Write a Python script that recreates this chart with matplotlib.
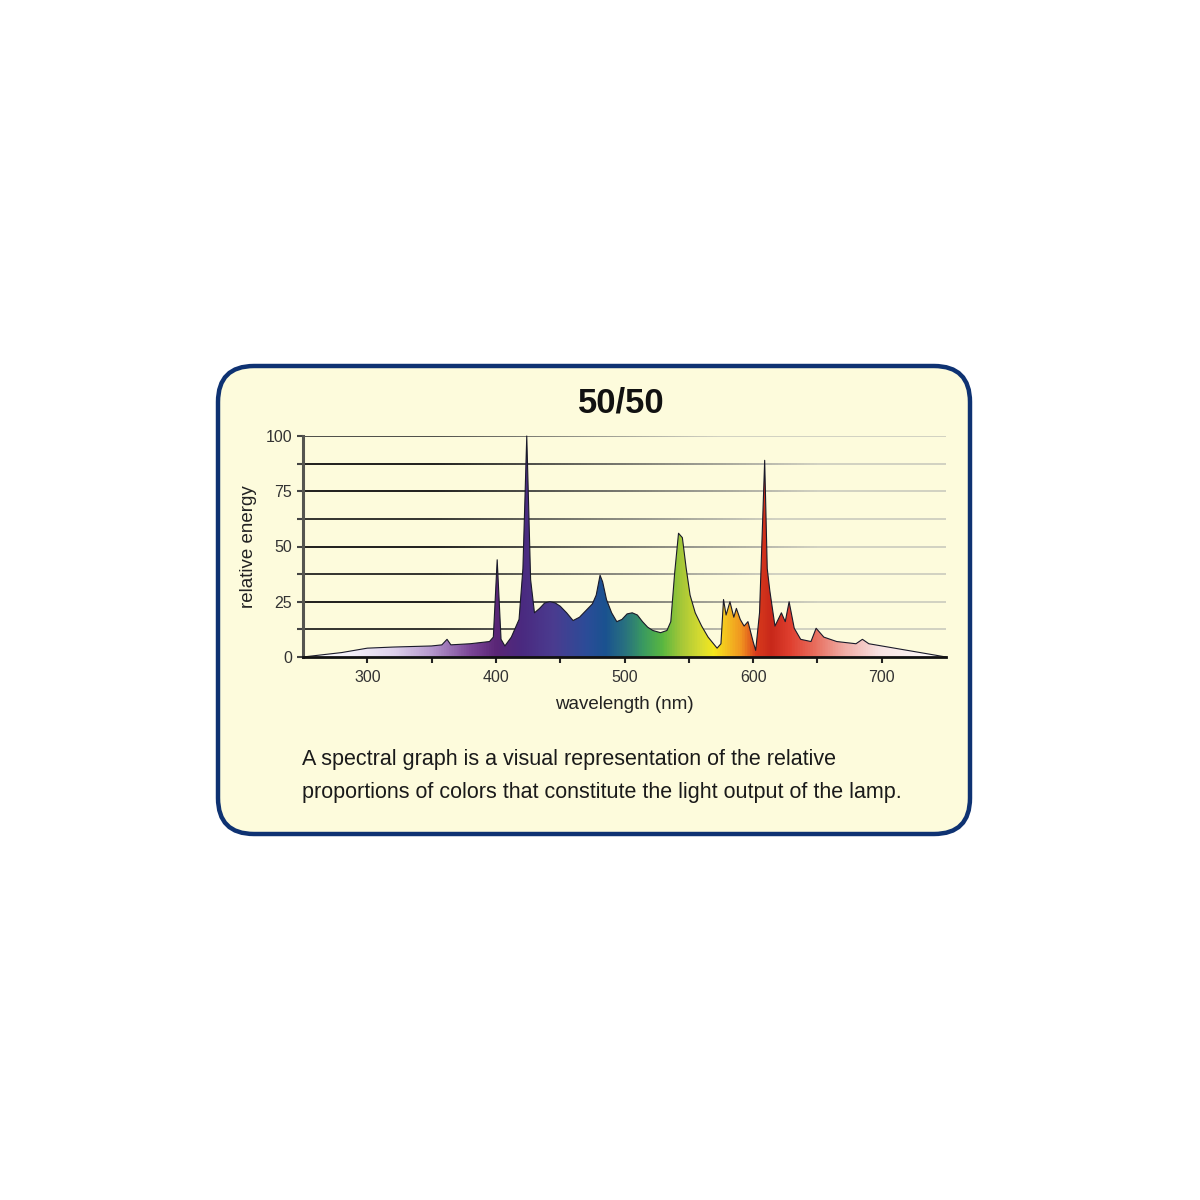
import numpy as np
import matplotlib
matplotlib.use("Agg")
import matplotlib.pyplot as plt
from matplotlib.patches import FancyBboxPatch, Polygon
from matplotlib.collections import LineCollection
from matplotlib.colors import LinearSegmentedColormap, to_rgb

# ---- data ----
wavelength = [250, 280, 300, 320, 350, 358, 362, 365, 380, 395, 398, 401, 404, 407,
              412, 418, 421, 424, 427, 430, 434, 438, 442, 446, 450, 455, 460, 465,
              470, 475, 478, 481, 483, 486, 490, 494, 498, 502, 506, 510, 514, 518,
              522, 528, 533, 536, 539, 542, 545, 548, 551, 555, 560, 565, 572, 575,
              577, 579, 582, 585, 587, 590, 593, 596, 600, 602, 605,
              609, 611, 613, 617, 622, 625, 628, 632, 637, 645, 649, 655, 665, 680,
              685, 690, 700, 720, 740, 750]
energy = [0, 2, 4, 4.5, 5, 5.5, 8, 5.5, 6, 7, 9, 44, 8, 5,
          9, 17, 40, 100, 35, 20, 22, 24.5, 25, 24.5, 23, 20, 16.5, 18,
          21, 24, 28, 37, 34, 26, 20, 16, 17, 19.5, 20, 19, 16, 13.5,
          12, 11, 12, 16, 38, 56, 54, 40, 28, 20, 14, 9, 4, 6,
          26, 19, 25, 18, 22, 17, 14, 16, 7, 3, 20,
          89, 40, 30, 14, 20, 16, 25, 13, 8, 7, 13, 9, 7, 6,
          8, 6, 5, 3, 1, 0]

x_ticks = [300, 400, 500, 600, 700]
y_ticks = [0, 25, 50, 75, 100]
title = "50/50"
caption = ("A spectral graph is a visual representation of the relative\n"
           "proportions of colors that constitute the light output of the lamp.")

# colour stops along the spectrum
stop_nm = [250, 290, 320, 350, 380, 400, 420, 445, 470, 485, 500, 515, 530, 545,
           560, 570, 580, 592, 603, 615, 630, 650, 670, 700, 750]
stop_col = ["#ffffff", "#f2eef8", "#ddd0ea", "#b496cc", "#7a4596", "#5a2676",
            "#4a2a80", "#4a3c90", "#2c4c98", "#1a5290", "#287080", "#3a9a60",
            "#5ab840", "#a8c838", "#d8dc30", "#f6e81c", "#f4c020", "#f09020",
            "#d83a1c", "#c8281a", "#e04030", "#e87060", "#f0a8a0", "#f8e4e4",
            "#ffffff"]

plt.rcParams['font.family'] = ['Liberation Sans', 'DejaVu Sans']

fig = plt.figure(figsize=(12, 12), dpi=100)
fig.patch.set_facecolor("white")

# rounded frame
W, H = 1200, 1200
box = FancyBboxPatch((218 / W, 1 - 834 / H), (970 - 218) / W, (834 - 366) / H,
                     boxstyle="round,pad=0,rounding_size=0.03",
                     transform=fig.transFigure, facecolor="#fdfbdc",
                     edgecolor="#0e3272", linewidth=3.2, zorder=-5)
fig.patches.append(box)

x0, x1 = 303 / W, 946 / W
yb, yt = 1 - 657 / H, 1 - 436 / H
ax = fig.add_axes([x0, yb, x1 - x0, yt - yb], zorder=2)
ax.set_facecolor("none")
ax.set_xlim(250, 750)
ax.set_ylim(0, 100)

# gradient gridlines
gx = np.linspace(250, 750, 200)
for yv in np.arange(12.5, 100.1, 12.5):
    pts = np.array([gx, np.full_like(gx, yv)]).T
    segs = np.stack([pts[:-1], pts[1:]], axis=1)
    t = (gx[:-1] - 250) / 500
    dark = 0.12 if yv in (25, 50, 75, 87.5) else 0.2
    if yv == 100:
        dark = 0.3
    g = np.clip(dark + 0.7 * np.clip((t - 0.2) / 0.6, 0, 1), 0, 0.82)
    cols = [(v, v, v * 0.93) for v in g]
    lc = LineCollection(segs, colors=cols, linewidths=1.4, zorder=1)
    ax.add_collection(lc)

# spectrum fill with gradient
cmap = LinearSegmentedColormap.from_list(
    "spec", [((n - 250) / 500, to_rgb(c)) for n, c in zip(stop_nm, stop_col)])
grad = np.linspace(0, 1, 1000)[None, :]
im = ax.imshow(grad, cmap=cmap, aspect="auto", extent=(250, 750, 0, 100),
               origin="lower", zorder=2, interpolation="bilinear")
poly_pts = np.column_stack([wavelength, energy])
poly = Polygon(poly_pts, closed=True, transform=ax.transData,
               facecolor="none", edgecolor="none")
ax.add_patch(poly)
im.set_clip_path(poly)
ax.plot(wavelength, energy, color="#1a1a2a", lw=0.8, zorder=3, clip_on=False)

# spines / ticks
for s in ("top", "right"):
    ax.spines[s].set_visible(False)
ax.spines["left"].set_color("#555550")
ax.spines["left"].set_linewidth(2.2)
ax.spines["bottom"].set_color("#111111")
ax.spines["bottom"].set_linewidth(2.0)
ax.spines["bottom"].set_zorder(4)

xt = np.arange(300, 701, 50)
ax.set_xticks(xt)
ax.set_xticklabels([str(v) if v in x_ticks else "" for v in xt])
yt_all = np.arange(0, 100.1, 12.5)
ax.set_yticks(yt_all)
ax.set_yticklabels([str(int(v)) if v in y_ticks else "" for v in yt_all])
ax.tick_params(axis="x", length=4, width=1.5, color="#222222", pad=5,
               labelsize=11.5, labelcolor="#333333")
ax.tick_params(axis="y", length=4, width=1.5, color="#444444", pad=4,
               labelsize=11.5, labelcolor="#333333")

ax.set_xlabel("wavelength (nm)", fontsize=13.5, color="#222222", labelpad=8)
ax.set_ylabel("relative energy", fontsize=13.5, color="#222222", labelpad=6)

fig.text(621 / W, 1 - 403 / H, title, ha="center", va="center",
         fontsize=25, fontweight="bold", color="#111111")
fig.text(302 / W, 1 - 776 / H, caption, ha="left", va="center",
         fontsize=15.5, color="#1a1a1a", linespacing=1.75)

fig.savefig("out.png", dpi=100)
